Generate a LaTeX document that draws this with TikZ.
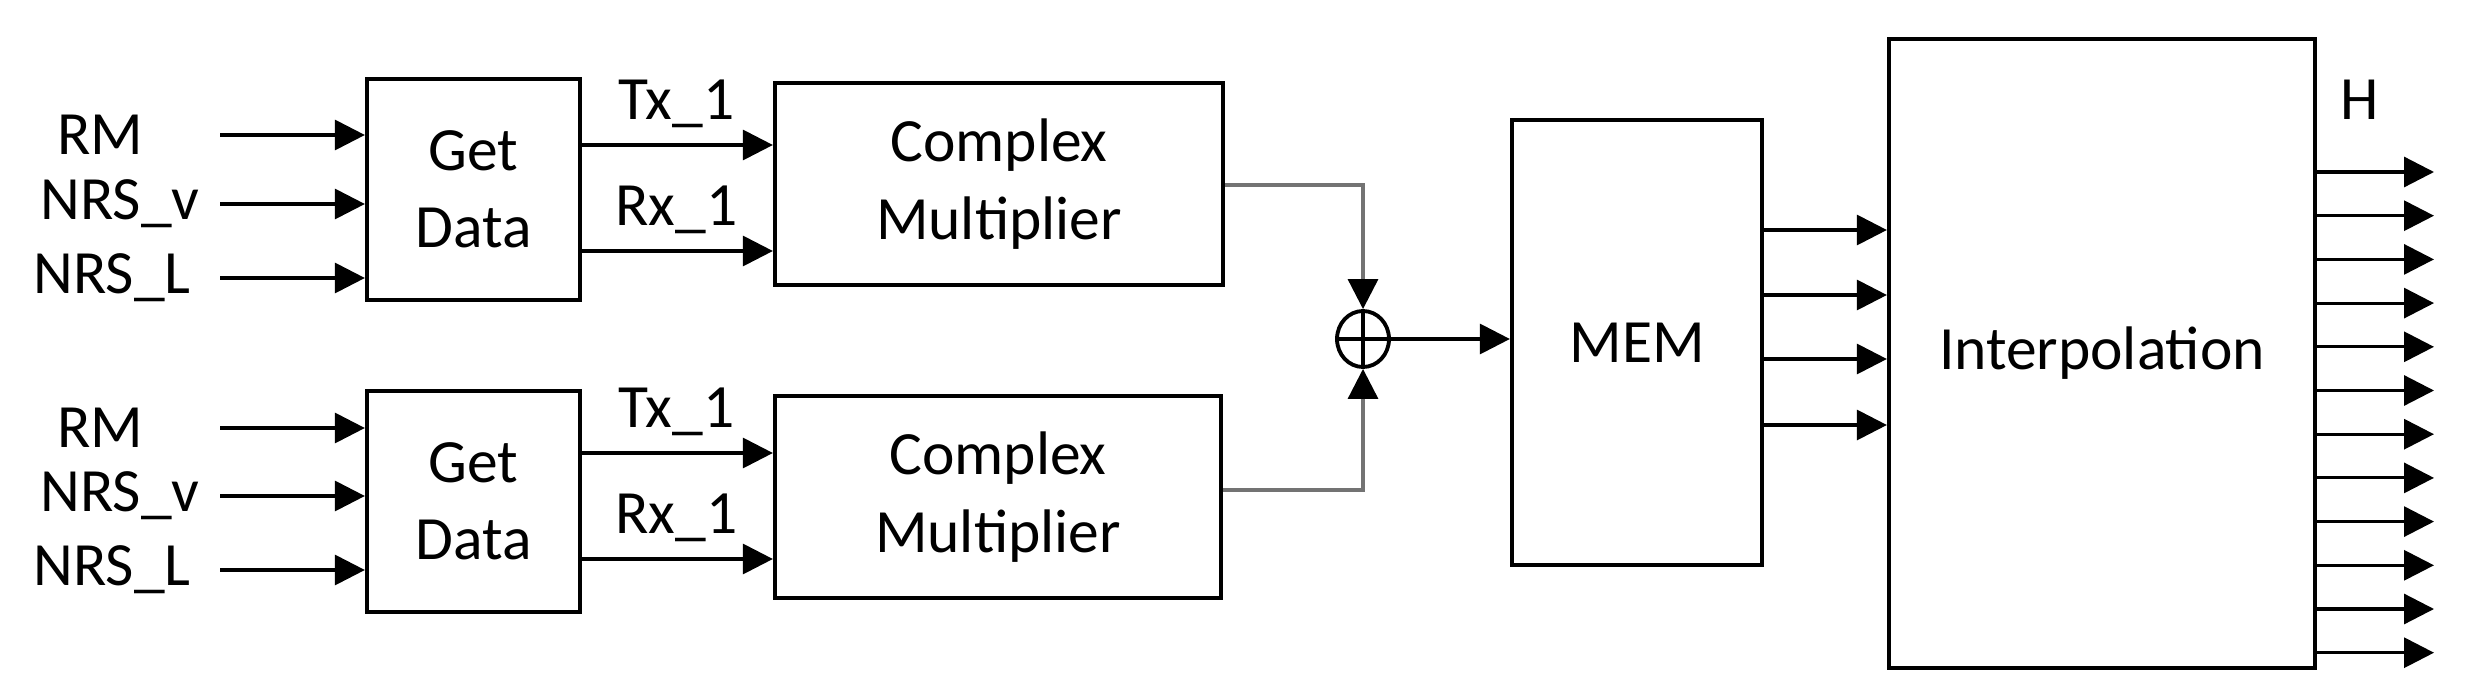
\documentclass[tikz,border=0pt]{standalone}
\usepackage{fontspec}
\setmainfont{Carlito}
\usetikzlibrary{arrows.meta,positioning,shapes.geometric}

\begin{document}
\begin{tikzpicture}[>={Triangle[length=3mm,width=3mm]},semithick,
  font=\fontsize{17.5}{20}\selectfont]
  \tikzset{block/.style={draw=black,line width=1.2pt,align=center,inner sep=0pt},
           arr/.style={->,line width=0.9pt},
           feed/.style={draw=black!55,line width=0.9pt,
             -{Triangle[length=3mm,width=3mm,color=black]}}}
  \useasboundingbox (0,0) rectangle (24.71,6.95);

  % Blocks
  \node[block,minimum width=2.13cm,minimum height=2.21cm] (GD1) at (4.735,5.055) {Get\\[2pt]Data};
  \node[block,minimum width=4.48cm,minimum height=2.02cm] (CM1) at (9.99,5.11) {Complex\\[2pt]Multiplier};
  \node[block,minimum width=2.13cm,minimum height=2.21cm] (GD2) at (4.735,1.935) {Get\\[2pt]Data};
  \node[block,minimum width=4.46cm,minimum height=2.02cm] (CM2) at (9.98,1.98) {Complex\\[2pt]Multiplier};
  \node[draw=black,line width=1.1pt,ellipse,minimum width=0.52cm,minimum height=0.56cm,inner sep=0pt] (SUM) at (13.63,3.56) {};
  \node[block,minimum width=2.5cm,minimum height=4.45cm] (MEM) at (16.37,3.525) {MEM};
  \node[block,minimum width=4.26cm,minimum height=6.29cm] (INT) at (21.02,3.415) {Interpolation};
  \draw[line width=1.1pt] (SUM.north) -- (SUM.south) (SUM.west) -- (SUM.east);

  % Inputs
  \foreach \g/\ya/\yb/\yc in {GD1/5.60/4.91/4.17, GD2/2.67/1.99/1.25} {
    \node (rm\g) at (1.0,\ya) {RM};
    \node (nv\g) at (1.2,\yb) {NRS\_v};
    \node (nl\g) at (1.12,\yc) {NRS\_L};
    \draw[arr] (2.2,\ya) -- (\g.west |- rm\g);
    \draw[arr] (2.2,\yb) -- (\g.west |- nv\g);
    \draw[arr] (2.2,\yc) -- (\g.west |- nl\g);
  }

  % Tx / Rx
  \foreach \g/\c/\yt/\yr in {GD1/CM1/5.50/4.44, GD2/CM2/2.42/1.36} {
    \coordinate (t\g) at (5.8,\yt);
    \coordinate (r\g) at (5.8,\yr);
    \draw[arr] (t\g) -- (\c.west |- t\g) node[pos=0.5,above=1pt] {Tx\_1};
    \draw[arr] (r\g) -- (\c.west |- r\g) node[pos=0.5,above=1pt] {Rx\_1};
  }

  % Adder
  \coordinate (c1) at (13.63,5.10);
  \coordinate (c2) at (13.63,2.05);
  \draw[feed] (CM1.east |- c1) -- (c1) -- (SUM.north);
  \draw[feed] (CM2.east |- c2) -- (c2) -- (SUM.south);
  \draw[arr] (SUM.east) -- (MEM.west |- SUM);

  % MEM to Interpolation
  \foreach \y in {4.65,4.00,3.36,2.70}
    \draw[arr] (MEM.east |- 0,\y) -- (INT.west |- 0,\y);

  % Outputs
  \node at (23.60,5.95) {H};
  \foreach \i in {0,...,11}
    \draw[arr] (INT.east |- 0,{5.23-0.437*\i}) -- (24.34,{5.23-0.437*\i});
\end{tikzpicture}
\end{document}
